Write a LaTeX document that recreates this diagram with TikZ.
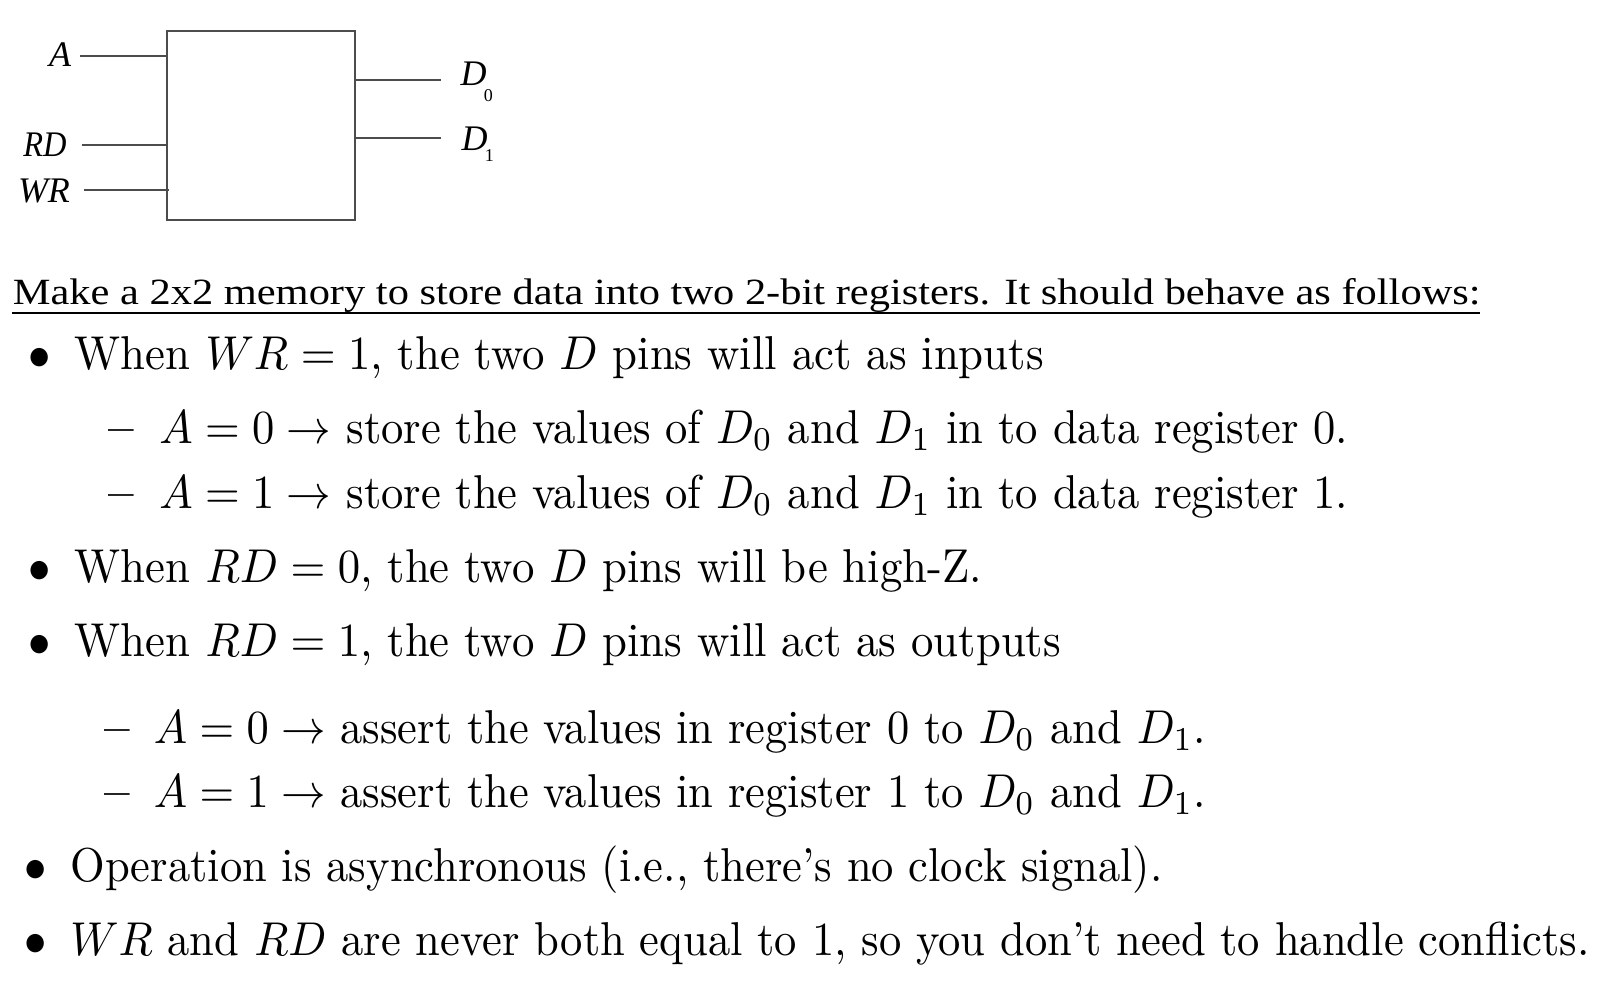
\documentclass[tikz,border=0pt]{standalone}
\usepackage{fontspec}
\usepackage{amsmath}
\newfontfamily\tnr{Liberation Serif}
\tikzset{
  wire/.style={draw=black!70, line width=2pt},
  chip/.style={draw=black!70, line width=2pt, fill=white, minimum width=188pt, minimum height=189pt, inner sep=0pt, anchor=north west},
  pin/.style={font=\tnr\itshape, scale=3.6, inner sep=0pt},
  head/.style={font=\tnr, anchor=base west, inner sep=0pt, xscale=4.245, yscale=3.7},
  body/.style={anchor=base west, inner sep=0pt, xscale=4.46, yscale=4.75},
}
\newcommand{\pinsub}[2]{\raisebox{#2}{\kern-0.08em\tiny\upshape #1}}
\begin{document}
\begin{tikzpicture}[x=1pt,y=-1pt]
\useasboundingbox (0,0) rectangle (1600,986);
\node[chip] (box) at (165.7,29.6) {};
\node[pin] (a) at (60,55) {A};
\node[pin,xscale=0.9] (rd) at (45,145) {RD};
\node[pin] (wr) at (44,191) {WR};
\node[pin,anchor=base west] (d0) at (460,85) {D\pinsub{0}{-1.0ex}};
\node[pin,anchor=base west] (d1) at (461,150) {D\pinsub{1}{-0.7ex}};
\coordinate (a1) at (80,56); \coordinate (a2) at (166,56);
\coordinate (r1) at (82,145); \coordinate (r2) at (166,145);
\coordinate (w1) at (84,190); \coordinate (w2) at (169,190);
\coordinate (d01) at (356,80); \coordinate (d02) at (441,80);
\coordinate (d11) at (356,138); \coordinate (d12) at (441,138);
\draw[wire] (a1) -- (a2);
\draw[wire] (r1) -- (r2);
\draw[wire] (w1) -- (w2);
\draw[wire] (d01) -- (d02);
\draw[wire] (d11) -- (d12);
\node[head] (h) at (12,304) {Make a 2x2 memory to store data into two 2-bit registers. It should behave as follows:};
\coordinate (u1) at (12,313); \coordinate (u2) at (1480,313);
\draw[line width=1.8pt] (u1) -- (u2);
\node[body] (l1b) at (28,369) {$\bullet$};
\node[body,xscale=1.004] (l1) at (74,369) {When $WR=1$, the two $D$ pins will act as inputs};
\node[body] (l2d) at (108,443) {\textbf{--}};
\node[body] (l2) at (158.5,443) {$A=0\rightarrow$ store the values of $D_0$ and $D_1$ in to data register 0.};
\node[body] (l3d) at (108,508) {\textbf{--}};
\node[body] (l3) at (158.5,508) {$A=1\rightarrow$ store the values of $D_0$ and $D_1$ in to data register 1.};
\node[body] (l4b) at (28,582) {$\bullet$};
\node[body,xscale=1.004] (l4) at (74,582) {When $RD=0$, the two $D$ pins will be high-Z.};
\node[body] (l5b) at (28,656) {$\bullet$};
\node[body,xscale=1.004] (l5) at (74,656) {When $RD=1$, the two $D$ pins will act as outputs};
\node[body] (l6d) at (104,743) {\textbf{--}};
\node[body,xscale=0.998] (l6) at (153,743) {$A=0\rightarrow$ assert the values in register 0 to $D_0$ and $D_1$.};
\node[body] (l7d) at (104,807) {\textbf{--}};
\node[body,xscale=0.998] (l7) at (153,807) {$A=1\rightarrow$ assert the values in register 1 to $D_0$ and $D_1$.};
\node[body] (l8b) at (24,881.5) {$\bullet$};
\node[body,xscale=0.998] (l8) at (69.5,881.5) {Operation is asynchronous (i.e., there's no clock signal).};
\node[body] (l9b) at (24,955.5) {$\bullet$};
\node[body,xscale=0.999] (l9) at (69.5,955.5) {$WR$ and $RD$ are never both equal to 1, so you don't need to handle conflicts.};
\end{tikzpicture}
\end{document}
